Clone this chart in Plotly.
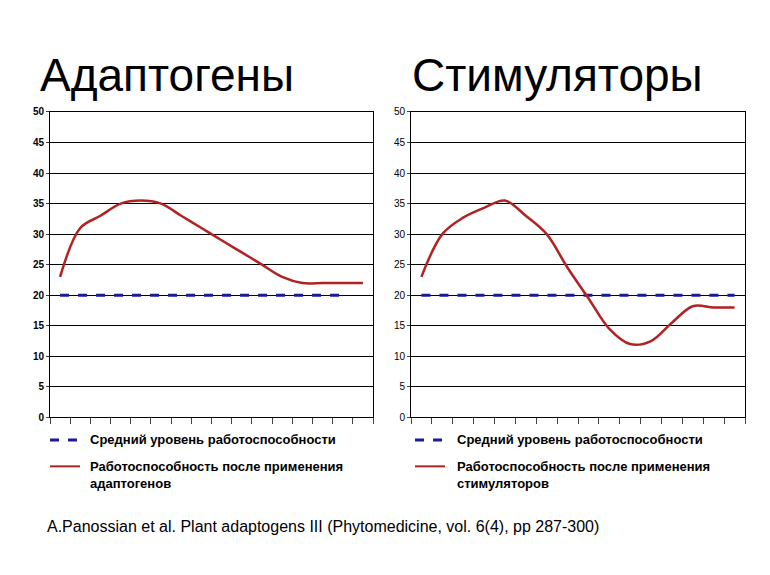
import plotly.graph_objects as go

cats = list(range(1, 17))
adapt = [23, 31, 33, 35, 35.5, 35, 33, 31, 29, 27, 25, 23, 22, 22, 22, 22]
stim = [23, 30, 32.7, 34.3, 35.5, 33, 30, 24.5, 19.5, 14.5, 12, 12.5, 15.5, 18.2, 18, 18]
avg_left = [20] * 15
avg_right = [20] * 16
yticks = list(range(0, 55, 5))

W, H = 770, 575
OFF = 8
def px(x): return (x - OFF) / W
def py(y): return 1 - (y - OFF) / H

fig = go.Figure()
red = "#b22222"
blue = "#1a1a9a"
fig.add_trace(go.Scatter(x=cats[:15], y=avg_left, mode="lines", line=dict(color=blue, width=3, dash="dash"), xaxis="x", yaxis="y"))
fig.add_trace(go.Scatter(x=cats, y=adapt, mode="lines", line=dict(color=red, width=2.5, shape="spline"), xaxis="x", yaxis="y"))
fig.add_trace(go.Scatter(x=cats, y=avg_right, mode="lines", line=dict(color=blue, width=3, dash="dash"), xaxis="x2", yaxis="y2"))
fig.add_trace(go.Scatter(x=cats, y=stim, mode="lines", line=dict(color=red, width=2.5, shape="spline"), xaxis="x2", yaxis="y2"))

def yax(domain_anchor, bold):
    return dict(range=[0, 50], tickvals=yticks, showgrid=True, gridcolor="black", gridwidth=1,
                showline=True, linecolor="black", mirror=True, ticks="outside", ticklen=3,
                tickfont=dict(family="Arial", size=10, color="black", weight="bold" if bold else "normal"),
                domain=[py(420), py(108)], anchor=domain_anchor, zeroline=False, fixedrange=True)
def xax(dom, anchor):
    return dict(range=[0.5, 16.5], domain=dom, anchor=anchor, showticklabels=False, showgrid=False,
                showline=True, linecolor="black", mirror=True, ticks="outside", ticklen=6,
                tickvals=[i + 0.5 for i in range(0, 17)], zeroline=False)

fig.update_layout(
    width=W, height=H, margin=dict(l=0, r=0, t=0, b=0), showlegend=False,
    paper_bgcolor="white", plot_bgcolor="white",
    xaxis=xax([px(50), px(373)], "y"), yaxis=yax("x", True),
    xaxis2=xax([px(411), px(745)], "y2"), yaxis2=yax("x2", False),
)

anns = [
    (38, 70, "Адаптогены", 46, "normal"),
    (410, 70, "Стимуляторы", 46, "normal"),
    (88, 443, "Средний уровень работоспособности", 13, "bold"),
    (88, 479, "Работоспособность после применения<br>адаптогенов", 13, "bold"),
    (455, 443, "Средний уровень работоспособности", 13, "bold"),
    (455, 479, "Работоспособность после применения<br>стимуляторов", 13, "bold"),
    (45, 531, "A.Panossian et al. Plant adaptogens III (Phytomedicine, vol. 6(4), pp 287-300)", 16, "normal"),
]
for x, y, t, s, w in anns:
    fig.add_annotation(x=px(x), y=py(y), xref="paper", yref="paper", text=t, showarrow=False,
                       xanchor="left", yanchor="middle", align="left",
                       font=dict(family="Arial", size=s, color="black", weight=w))

for x0 in (50, 415):
    fig.add_shape(type="line", xref="paper", yref="paper", x0=px(x0), x1=px(x0 + 30), y0=py(443), y1=py(443),
                  line=dict(color=blue, width=3, dash="dash"))
    fig.add_shape(type="line", xref="paper", yref="paper", x0=px(x0), x1=px(x0 + 30), y0=py(470), y1=py(470),
                  line=dict(color=red, width=2))

fig.write_html("out.html")
